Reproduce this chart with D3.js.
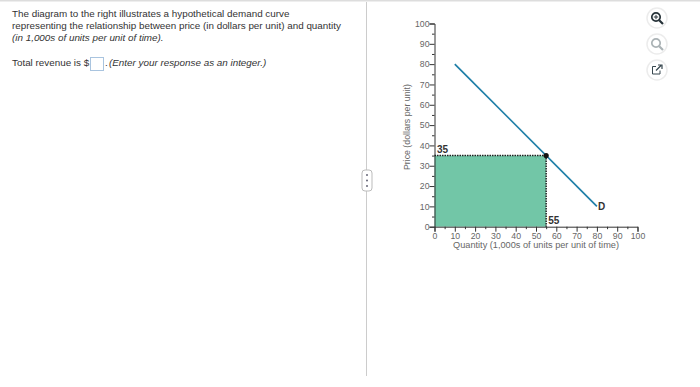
<!DOCTYPE html>
<html><head><meta charset="utf-8">
<script src="https://cdn.jsdelivr.net/npm/d3@7"></script>
<style>
html,body{margin:0;padding:0;background:#fff;overflow:hidden}
svg{display:block;font-family:"Liberation Sans",Arial,sans-serif}
</style></head><body>
<svg id="c" width="700" height="387"></svg>
<script>
const xTicks=[0,10,20,30,40,50,60,70,80,90,100];
const yTicks=[0,10,20,30,40,50,60,70,80,90,100];
const minorTicks=[5,15,25,35,45,55,65,75,85,95];
const demandQ=[10,80];
const demandP=[80,10];
const eqQ=55, eqP=35;
const introLines=["The diagram to the right illustrates a hypothetical demand curve","representing the relationship between price (in dollars per unit) and quantity"];
const introItalic="(in 1,000s of units per unit of time).";

const svg=d3.select("#c");
const x=d3.scaleLinear().domain([0,100]).range([434.5,637.5]);
const y=d3.scaleLinear().domain([0,100]).range([226.7,23.5]);
const tc="#666", dark="#333";

svg.append("rect").attr("x",0).attr("y",0).attr("width",700).attr("height",1.5).attr("fill","#ddd");
svg.append("line").attr("x1",366.5).attr("x2",366.5).attr("y1",2).attr("y2",376).attr("stroke","#ccc");
svg.append("rect").attr("x",362).attr("y",170).attr("width",10).attr("height",21).attr("rx",3).attr("fill","#fff").attr("stroke","#bbb");
[175,180.5,186].forEach(c=>svg.append("circle").attr("cx",367).attr("cy",c).attr("r",1).attr("fill","#667"));

const t=svg.append("g").attr("font-size",9.85).attr("fill","#333");
introLines.forEach((s,i)=>t.append("text").attr("x",12).attr("y",17+i*12.3).text(s));
t.append("text").attr("x",12).attr("y",41.4).attr("font-style","italic").text(introItalic);
t.append("text").attr("x",12).attr("y",66).text("Total revenue is $");
svg.append("rect").attr("x",90.5).attr("y",57.5).attr("width",13).attr("height",13).attr("fill","#fff").attr("stroke","#a9c4df");
t.append("text").attr("x",105).attr("y",66).text(".");
t.append("text").attr("x",109).attr("y",66).attr("font-style","italic").text("(Enter your response as an integer.)");

// revenue rectangle
svg.append("rect").attr("x",x(0)).attr("y",y(eqP)).attr("width",x(eqQ)-x(0)).attr("height",y(0)-y(eqP)).attr("fill","#72c6a7");

// axes
const yAxis=d3.axisLeft(y).tickValues(yTicks).tickSize(5).tickPadding(0).tickFormat(d3.format("d"));
const gy=svg.append("g").attr("transform",`translate(${x(0)},0)`).call(yAxis);
const gyMinor=svg.append("g").attr("transform",`translate(${x(0)},0)`).call(d3.axisLeft(y).tickValues(minorTicks).tickSize(2.5).tickFormat(""));
const xAxis=d3.axisBottom(x).tickValues(xTicks).tickSize(5).tickPadding(1).tickFormat(d3.format("d"));
const gx=svg.append("g").attr("transform",`translate(0,${y(0)})`).call(xAxis);
const gxMinor=svg.append("g").attr("transform",`translate(0,${y(0)})`).call(d3.axisBottom(x).tickValues(minorTicks).tickSize(2.5).tickFormat(""));
[gy,gx,gyMinor,gxMinor].forEach(g=>{
  g.selectAll(".domain").attr("stroke",dark);
  g.selectAll("line").attr("stroke",dark);
  g.selectAll("text").attr("fill",tc).attr("font-size",8.7).attr("font-family","Liberation Sans");
});
gyMinor.selectAll(".domain").remove(); gxMinor.selectAll(".domain").remove();

svg.append("text").attr("transform",`translate(410,${y(50)+2}) rotate(-90)`).attr("text-anchor","middle").attr("font-size",8.8).attr("fill",tc).text("Price (dollars per unit)");
svg.append("text").attr("x",536).attr("y",248).attr("text-anchor","middle").attr("font-size",9.2).attr("fill",tc).text("Quantity (1,000s of units per unit of time)");

// demand
svg.append("line").attr("x1",x(demandQ[0])).attr("y1",y(demandP[0])).attr("x2",x(demandQ[1])).attr("y2",y(demandP[1])).attr("stroke","#1f7fa8").attr("stroke-width",1.7);

// guides
const dots={stroke:"#222","stroke-width":1.5,"stroke-dasharray":"1.5 1"};
const h=svg.append("line").attr("x1",x(0)).attr("x2",x(eqQ)).attr("y1",y(eqP)).attr("y2",y(eqP));
const v=svg.append("line").attr("x1",x(eqQ)).attr("x2",x(eqQ)).attr("y1",y(eqP)).attr("y2",y(0));
[h,v].forEach(l=>Object.entries(dots).forEach(([k,val])=>l.attr(k,val)));
svg.append("circle").attr("cx",x(eqQ)).attr("cy",y(eqP)).attr("r",2.6).attr("fill","#111");

const lab=svg.append("g").attr("font-size",10).attr("font-weight","bold").attr("fill","#333");
lab.append("text").attr("x",x(0)+2.5).attr("y",y(eqP)-2.5).text(eqP);
lab.append("text").attr("x",x(eqQ)+2).attr("y",y(0)-2.5).text(eqQ);
lab.append("text").attr("x",x(demandQ[1])+1).attr("y",y(demandP[1])+3.5).text("D");

// toolbar icons
function icon(cy,col,kind){
  const g=svg.append("g").attr("transform",`translate(657,${cy})`);
  g.append("circle").attr("r",10).attr("fill","#fff").attr("stroke","#ececec").attr("stroke-width",1.5);
  if(kind==="ext"){
    g.append("path").attr("d","M-1-3.5H-4.5V4H3V0.5").attr("fill","none").attr("stroke",col).attr("stroke-width",1);
    g.append("path").attr("d","M-1 0.5L4-4.5M1-5H5V-1").attr("fill","none").attr("stroke",col).attr("stroke-width",1.2);
    return;
  }
  g.append("circle").attr("cx",-1).attr("cy",-1).attr("r",4.2).attr("fill","none").attr("stroke",col).attr("stroke-width",1.7);
  g.append("line").attr("x1",2.2).attr("y1",2.2).attr("x2",6).attr("y2",6).attr("stroke",col).attr("stroke-width",2.2);
  if(kind==="plus") g.append("path").attr("d","M-3.2-1H1.2M-1-3.2V1.2").attr("stroke",col).attr("stroke-width",1);
}
icon(18,"#263238","plus");
icon(44,"#aab2b5","minus");
icon(70,"#37474f","ext");
</script>
</body></html>
